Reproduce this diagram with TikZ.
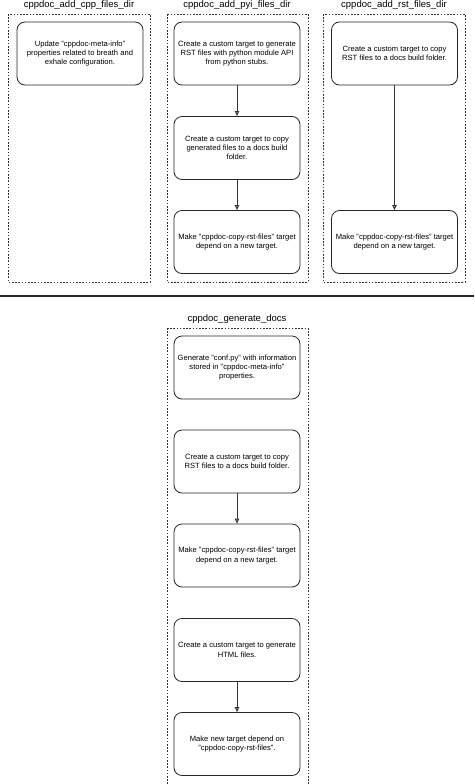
\documentclass[tikz,border=0pt]{standalone}
\usepackage{fontspec}
\setmainfont{Liberation Sans}
\usetikzlibrary{arrows.meta}
\begin{document}
\begin{tikzpicture}[x=1pt,y=-1pt,
  stepbox/.style={draw=black!85,line width=0.8pt,rounded corners=8pt,minimum width=126pt,minimum height=63pt,align=center,font=\fontsize{7.6}{9.3}\selectfont,inner sep=1pt},
  groupbox/.style={draw=black!80,line width=0.7pt,dash pattern=on 1.6pt off 1.6pt},
  grouptitle/.style={font=\fontsize{9.5}{11}\selectfont,anchor=center},
  flow/.style={draw=black!80,line width=1pt,-{Triangle[open,length=5pt,width=4.5pt]}}]
\useasboundingbox (0,0) rectangle (474,784);
% column boxes
\draw[groupbox] (8,14) rectangle (150,282);
\draw[groupbox] (167,14) rectangle (308,282);
\draw[groupbox] (323,14) rectangle (465,282);
\draw[groupbox] (167,328) -- (308,328);
\draw[groupbox] (167,328) -- (167,790);
\draw[groupbox] (308,328) -- (308,790);
\node[grouptitle] (t1) at (79,5) {cppdoc\_add\_cpp\_files\_dir};
\node[grouptitle] (t2) at (237,5) {cppdoc\_add\_pyi\_files\_dir};
\node[grouptitle] (t3) at (394,5) {cppdoc\_add\_rst\_files\_dir};
\node[grouptitle] (t4) at (237,319) {cppdoc\_generate\_docs};
% separator
\draw[line width=1.6pt,black!85] (0,296) -- (474,296);
% column 1
\node[stepbox] (a1) at (80,53.5) {Update "cppdoc-meta-info"\\properties related to breath and\\exhale configuration.};
% column 2
\node[stepbox] (b1) at (237,53.5) {Create a custom target to generate\\RST files with python module API\\from python stubs.};
\node[stepbox] (b2) at (237,148) {Create a custom target to copy\\generated files to a docs build\\folder.};
\node[stepbox] (b3) at (237,242) {Make "cppdoc-copy-rst-files" target\\depend on a new target.};
\draw[flow] (b1) -- (b2);
\draw[flow] (b2) -- (b3);
% column 3
\node[stepbox] (c1) at (394.5,53.5) {Create a custom target to copy\\RST files to a docs build folder.};
\node[stepbox] (c2) at (394.5,242) {Make "cppdoc-copy-rst-files" target\\depend on a new target.};
\draw[flow] (c1) -- (c2);
% generate docs
\node[stepbox] (d1) at (237,367.5) {Generate "conf.py" with information\\stored in "cppdoc-meta-info"\\properties.};
\node[stepbox] (d2) at (237,461.5) {Create a custom target to copy\\RST files to a docs build folder.};
\node[stepbox] (d3) at (237,555.5) {Make "cppdoc-copy-rst-files" target\\depend on a new target.};
\node[stepbox] (d4) at (237,650) {Create a custom target to generate\\HTML files.};
\node[stepbox] (d5) at (237,744) {Make new target depend on\\"cppdoc-copy-rst-files".};
\draw[flow] (d2) -- (d3);
\draw[flow] (d4) -- (d5);
\end{tikzpicture}
\end{document}
